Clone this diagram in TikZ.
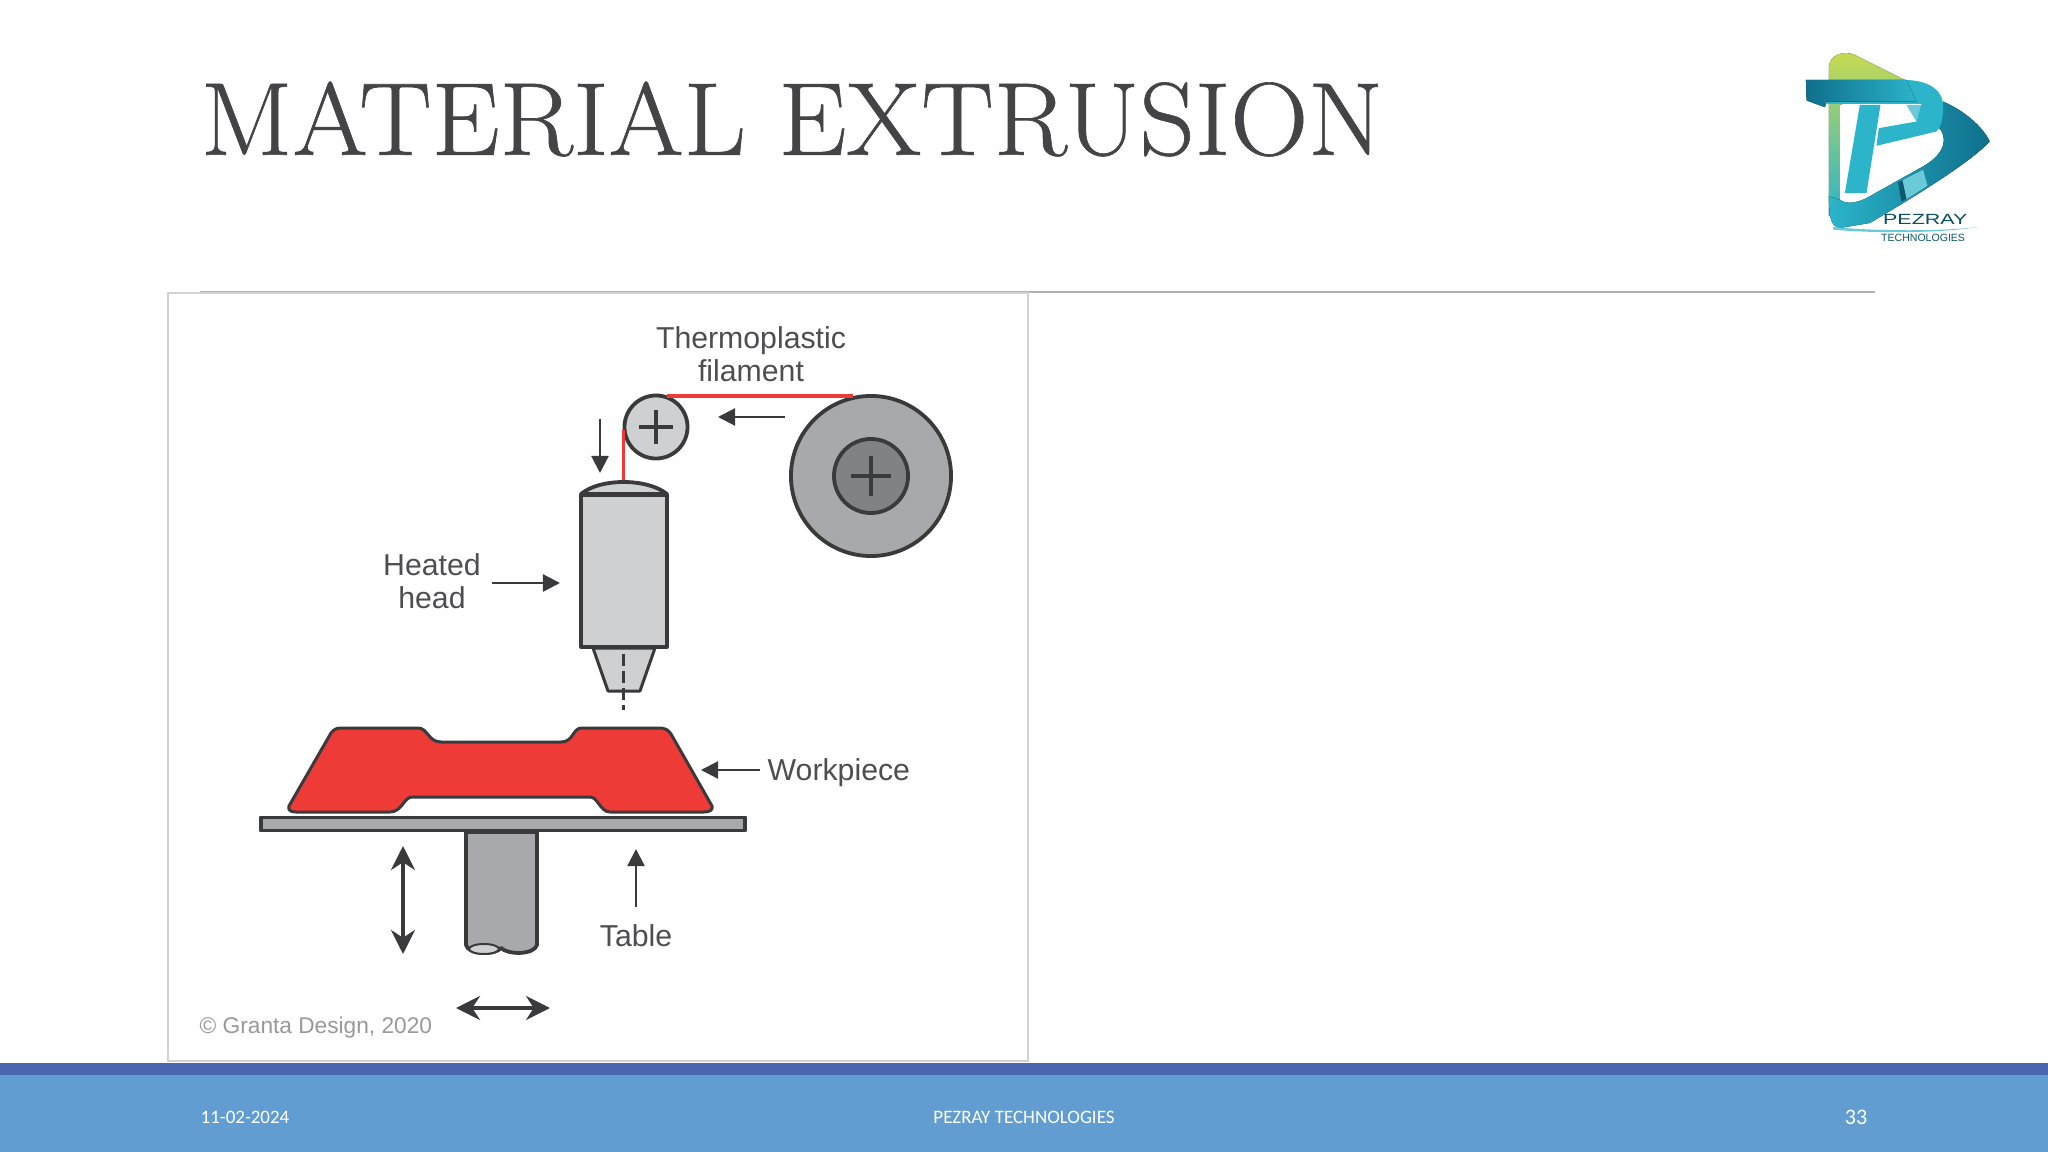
\documentclass[tikz,border=0pt]{standalone}
\usepackage{fontspec}
\usepackage{xcolor}
\usepackage{tikz}
\usetikzlibrary{arrows.meta,positioning,calc}
\setmainfont{Liberation Sans}
\newfontfamily\titlefont[FakeStretch=1.043,FakeBold=0.6]{Latin Modern Roman}
\newfontfamily\footfont{Carlito}
\newfontfamily\logofont[FakeStretch=1.45]{Liberation Sans}
\definecolor{inkgray}{HTML}{3A3A3C}
\definecolor{headfill}{HTML}{CFD0D2}
\definecolor{spoolfill}{HTML}{A7A9AC}
\definecolor{hubfill}{HTML}{808285}
\definecolor{fillred}{HTML}{EE3B37}
\definecolor{barblue}{HTML}{4A66AC}
\definecolor{footblue}{HTML}{629DD1}
\definecolor{logodark}{HTML}{0F6F8C}
\definecolor{logocyan}{HTML}{2BB4CA}
\definecolor{logolime}{HTML}{C9DA4F}
\tikzset{
  part/.style={draw=inkgray,line width=0.38mm,line join=round},
  thin arrow/.style={draw=inkgray,line width=0.22mm,-{Triangle[length=1.7mm,width=1.7mm]}},
  move arrow/.style={draw=inkgray,line width=0.38mm,{Stealth[length=2.4mm,width=2.4mm]}-{Stealth[length=2.4mm,width=2.4mm]}},
  label/.style={font=\fontsize{8.6}{9.4}\selectfont,text=inkgray!90,align=center,inner sep=0pt},
  foot/.style={font=\footfont\fontsize{5.4}{6}\selectfont,text=white,inner sep=0pt},
}
\begin{document}
\begin{tikzpicture}[x=0.01cm,y=-0.01cm]
  % 1 unit = one pixel of the 2048x1152 slide, y runs downwards
  \useasboundingbox (0,0) rectangle (2048,1152);
  \fill[white] (0,0) rectangle (2048,1152);
  \node[font=\titlefont\fontsize{29.5}{32}\selectfont,text=inkgray!95,anchor=west,inner sep=0pt] (title) at (200,119) {MATERIAL EXTRUSION};
  \coordinate (ruleL) at (200,292);
  \coordinate (ruleR) at (1875,292);
  \draw[gray!60,line width=0.15mm] (ruleL) -- (ruleR);
  \draw[gray!35,line width=0.15mm] (168,293) rectangle (1028,1061);
  % footer
  \fill[barblue] (0,1063) rectangle (2048,1075);
  \fill[footblue] (0,1075) rectangle (2048,1152);
  \node[foot,anchor=west] (date) at (200,1117) {11-02-2024};
  \node[foot] (company) at (1024,1117) {PEZRAY TECHNOLOGIES};
  \node[foot,font=\footfont\fontsize{6.3}{7}\selectfont,anchor=east] (page) at (1868,1117) {33};
  % logo, hand traced in the pixels of the crop
  \begin{scope}[shift={(1760,30)},x=0.00333cm,y=-0.00333cm]
    \fill[top color=logolime,bottom color=logocyan]
      (207,560) -- (207,110) .. controls (210,75) and (250,60) .. (285,75) -- (445,155) -- (240,225) -- (240,520) -- cycle;
    \fill[left color=logocyan,right color=logodark]
      (550,215) .. controls (610,240) and (670,290) .. (690,335) .. controls (640,390) and (500,480) .. (330,580)
      -- (240,595) .. controls (215,590) and (207,570) .. (207,500) -- (240,510)
      .. controls (260,525) and (290,520) .. (320,505) -- (490,410)
      .. controls (560,370) and (565,320) .. (535,290) -- cycle;
    \fill[logocyan!70!white] (428,452) -- (490,420) -- (503,468) -- (440,508) -- cycle;
    \fill[logodark!80!black] (415,458) -- (428,452) -- (440,508) -- (425,516) -- cycle;
    \fill[logocyan!70!white] (440,225) -- (485,225) -- (470,275) -- cycle;
    \fill[logocyan] (300,225) -- (362,225) -- (320,490) -- (255,490) -- cycle;
    \fill[logocyan] (200,150) -- (430,150) .. controls (520,150) and (555,190) .. (550,240)
      .. controls (548,280) and (540,295) .. (530,305) -- (350,348) -- (357,295) -- (470,275) -- (485,222) -- (200,222) -- cycle;
    \fill[left color=logodark,right color=logocyan] (138,150) -- (440,150) -- (470,215) -- (200,215) -- (195,232) -- (140,212) -- cycle;
    \fill[logocyan!70!white] (220,592) .. controls (350,605) and (550,605) .. (655,592) .. controls (550,610) and (350,612) .. (220,600) -- cycle;
    \node[font=\logofont\fontsize{4.2}{5}\selectfont,text=logodark!70!black,anchor=west,inner sep=0pt] (logoname) at (368,570) {PEZRAY};
    \node[font=\fontsize{3}{3.5}\selectfont,text=logodark!80!black,anchor=west,inner sep=0pt] (logosub) at (362,626) {TECHNOLOGIES};
  \end{scope}
  % spool and guide pulley
  \node[part,circle,fill=spoolfill,minimum size=1.6cm,inner sep=0pt] (spool) at (871,476) {};
  \node[part,circle,fill=hubfill,minimum size=0.74cm,inner sep=0pt] (hub) at (871,476) {};
  \node[part,circle,fill=headfill,minimum size=0.63cm,inner sep=0pt] (pulley) at (656,427) {};
  \foreach \c/\r in {hub/20,pulley/17}
    \draw[inkgray,line width=0.33mm] ($(\c)+(-\r,0)$) -- ($(\c)+(\r,0)$) ($(\c)+(0,-\r)$) -- ($(\c)+(0,\r)$);
  % filament
  \coordinate (pulleyTop) at (667,396);
  \coordinate (spoolTop) at (853,396);
  \coordinate (pulleyLeft) at (623.5,430);
  \coordinate (headTop) at (623.5,482);
  \draw[fillred,line width=0.38mm] (pulleyTop) -- (spoolTop);
  \draw[fillred,line width=0.38mm] (pulleyLeft) -- (headTop);
  % heated head with nozzle
  \draw[part,fill=headfill] (581,494) .. controls (600,478) and (647,478) .. (667,494) -- cycle;
  \draw[part,line width=0.3mm,fill=headfill] (593,648) -- (655,648) -- (640,691) -- (608,691) -- cycle;
  \node[part,fill=headfill,minimum width=0.86cm,minimum height=1.52cm,inner sep=0pt] (head) at (624,571) {};
  \coordinate (nozzleA) at (623.5,654);
  \coordinate (nozzleB) at (623.5,710);
  \draw[inkgray,line width=0.33mm,dash pattern=on 1.2mm off 0.5mm] (nozzleA) -- (nozzleB);
  % workpiece, rounded by hand
  \draw[draw=inkgray,line width=0.3mm,fill=fillred,line join=round]
    (289,806) -- (331,733) .. controls (335,728) and (338,728) .. (343,728) -- (418,728)
    .. controls (428,728) and (428,742) .. (441,742) -- (561,742)
    .. controls (574,742) and (572,728) .. (582,728) -- (658,728)
    .. controls (666,728) and (668,730) .. (671,734) -- (712,806)
    .. controls (713,810) and (710,812) .. (704,812) -- (610,812)
    .. controls (600,812) and (598,797) .. (590,797) -- (412,797)
    .. controls (404,797) and (402,812) .. (390,812) -- (296,812)
    .. controls (290,812) and (288,810) .. (289,806) -- cycle;
  % table and column
  \draw[part,fill=spoolfill] (466,832) -- (466,945) .. controls (468,955) and (496,955) .. (501,948)
    .. controls (508,955) and (534,955) .. (537,945) -- (537,832) -- cycle;
  \draw[draw=inkgray,line width=0.2mm,fill=headfill] (484,949) ellipse (15 and 5);
  \node[part,fill=spoolfill,minimum width=4.84cm,minimum height=0.13cm,inner sep=0pt] (table) at (503,824) {};
  % labels and arrows
  \node[label] (filament) at (751,354) {Thermoplastic\\filament};
  \node[label] (heated) at (432,581) {Heated\\head};
  \node[label,anchor=west] (workpiece) at (767,773) {Workpiece};
  \node[label] (tablelabel) at (636,936) {Table};
  \node[font=\fontsize{6.45}{8}\selectfont,text=gray!80,anchor=west,inner sep=0pt] (copyright) at (199,1028) {© Granta Design, 2020};
  \coordinate (feedA) at (785,417);
  \coordinate (feedB) at (718,417);
  \coordinate (downA) at (600,419);
  \coordinate (downB) at (600,473);
  \coordinate (heatA) at (492,583);
  \coordinate (heatB) at (560,583);
  \coordinate (workA) at (760,770);
  \coordinate (workB) at (701,770);
  \coordinate (tableA) at (636,907);
  \coordinate (tableB) at (636,849);
  \coordinate (liftA) at (403,846);
  \coordinate (liftB) at (403,954);
  \coordinate (sideA) at (456,1008);
  \coordinate (sideB) at (550,1008);
  \foreach \a/\b in {feedA/feedB,downA/downB,heatA/heatB,workA/workB,tableA/tableB}
    \draw[thin arrow] (\a) -- (\b);
  \foreach \a/\b in {liftA/liftB,sideA/sideB}
    \draw[move arrow] (\a) -- (\b);
\end{tikzpicture}
\end{document}
